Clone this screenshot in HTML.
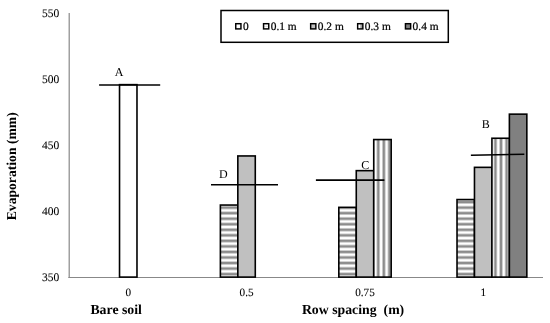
<!DOCTYPE html>
<html><head><meta charset="utf-8"><title>Evaporation chart</title>
<style>html,body{margin:0;padding:0;background:#fff;}svg{display:block;}text{text-rendering:geometricPrecision;}</style>
</head><body>
<svg width="550" height="323" viewBox="0 0 550 323">
<defs>
<pattern id="hs" patternUnits="userSpaceOnUse" x="0" y="0" width="8" height="5.54" patternTransform="translate(0,271.30)">
<rect x="0" y="0" width="8" height="5.54" fill="#fff"/><rect x="0" y="1.45" width="8" height="2.7" fill="#8c8c8c"/>
</pattern>
<pattern id="vs" patternUnits="userSpaceOnUse" x="0" y="0" width="5.58" height="8" patternTransform="translate(375.45,0)">
<rect x="0" y="0" width="5.58" height="8" fill="#fff"/><rect x="1.45" y="0" width="2.7" height="8" fill="#8c8c8c"/>
</pattern>
<linearGradient id="lg3" x1="0" y1="0" x2="1" y2="0"><stop offset="0" stop-color="#fff"/><stop offset="0.45" stop-color="#fff"/><stop offset="0.6" stop-color="#a0a0a0"/><stop offset="1" stop-color="#a0a0a0"/></linearGradient>
<linearGradient id="lg1" x1="0" y1="0" x2="0" y2="1"><stop offset="0" stop-color="#fff"/><stop offset="0.3" stop-color="#fff"/><stop offset="0.5" stop-color="#d8d8d8"/><stop offset="0.7" stop-color="#fff"/><stop offset="1" stop-color="#fff"/></linearGradient>
</defs>
<rect width="550" height="323" fill="#fff"/>

<line x1="69.2" y1="13" x2="69.2" y2="278" stroke="#888" stroke-width="1.2"/>
<line x1="68.4" y1="277.5" x2="543" y2="277.5" stroke="#888" stroke-width="1"/>
<rect x="119.53" y="84.65" width="17.45" height="192.45" fill="#fff" stroke="#000" stroke-width="1.6"/>
<rect x="220.38" y="205.05" width="17.45" height="72.05" fill="url(#hs)" stroke="#000" stroke-width="1.6"/>
<rect x="237.83" y="155.95" width="17.45" height="121.15" fill="#c0c0c0" stroke="#000" stroke-width="1.6"/>
<rect x="338.82" y="207.35" width="17.45" height="69.75" fill="url(#hs)" stroke="#000" stroke-width="1.6"/>
<rect x="356.27" y="170.65" width="17.45" height="106.45" fill="#c0c0c0" stroke="#000" stroke-width="1.6"/>
<rect x="373.73" y="139.55" width="17.45" height="137.55" fill="url(#vs)" stroke="#000" stroke-width="1.6"/>
<rect x="457.02" y="199.55" width="17.45" height="77.55" fill="url(#hs)" stroke="#000" stroke-width="1.6"/>
<rect x="474.47" y="167.35" width="17.45" height="109.75" fill="#c0c0c0" stroke="#000" stroke-width="1.6"/>
<rect x="491.93" y="138.25" width="17.45" height="138.85" fill="url(#vs)" stroke="#000" stroke-width="1.6"/>
<rect x="509.38" y="114.15" width="17.45" height="162.95" fill="#808080" stroke="#000" stroke-width="1.6"/>
<line x1="99.1" y1="85.0" x2="160.2" y2="85.0" stroke="#000" stroke-width="1.65"/>
<line x1="211" y1="184.7" x2="278" y2="184.7" stroke="#000" stroke-width="1.6"/>
<line x1="315.9" y1="180.1" x2="384.4" y2="180.1" stroke="#000" stroke-width="1.6"/>
<line x1="470.9" y1="155.2" x2="524.3" y2="154.3" stroke="#000" stroke-width="1.6"/>
<text x="119.10" y="75.70" font-size="12.00" text-anchor="middle" font-family="Liberation Serif, Times New Roman, serif" >A</text>
<text x="223.35" y="177.90" font-size="12.00" text-anchor="middle" font-family="Liberation Serif, Times New Roman, serif" >D</text>
<text x="365.25" y="168.60" font-size="12.00" text-anchor="middle" font-family="Liberation Serif, Times New Roman, serif" >C</text>
<text x="485.70" y="128.30" font-size="12.00" text-anchor="middle" font-family="Liberation Serif, Times New Roman, serif" >B</text>
<text x="59.20" y="17.10" font-size="11.50" text-anchor="end" stroke="#000" stroke-width="0.08" font-family="Liberation Serif, Times New Roman, serif" >550</text>
<text x="59.20" y="83.10" font-size="11.50" text-anchor="end" stroke="#000" stroke-width="0.08" font-family="Liberation Serif, Times New Roman, serif" >500</text>
<text x="59.20" y="149.10" font-size="11.50" text-anchor="end" stroke="#000" stroke-width="0.08" font-family="Liberation Serif, Times New Roman, serif" >450</text>
<text x="59.20" y="215.10" font-size="11.50" text-anchor="end" stroke="#000" stroke-width="0.08" font-family="Liberation Serif, Times New Roman, serif" >400</text>
<text x="59.20" y="281.10" font-size="11.50" text-anchor="end" stroke="#000" stroke-width="0.08" font-family="Liberation Serif, Times New Roman, serif" >350</text>
<text x="128.25" y="296.10" font-size="11.20" text-anchor="middle" stroke="#000" stroke-width="0.08" font-family="Liberation Serif, Times New Roman, serif" >0</text>
<text x="246.55" y="296.10" font-size="11.20" text-anchor="middle" stroke="#000" stroke-width="0.08" font-family="Liberation Serif, Times New Roman, serif" >0.5</text>
<text x="365.00" y="296.10" font-size="11.20" text-anchor="middle" stroke="#000" stroke-width="0.08" font-family="Liberation Serif, Times New Roman, serif" >0.75</text>
<text x="483.20" y="296.10" font-size="11.20" text-anchor="middle" stroke="#000" stroke-width="0.08" font-family="Liberation Serif, Times New Roman, serif" >1</text>
<text x="116.15" y="313.50" font-size="13.80" text-anchor="middle" font-weight="bold" font-family="Liberation Serif, Times New Roman, serif" >Bare soil</text>
<text x="301.90" y="313.50" font-size="13.80" text-anchor="start" font-weight="bold" font-family="Liberation Serif, Times New Roman, serif" >Row spacing&#160;&#160;(m)</text>
<text x="0" y="0" font-size="13.65" font-weight="bold" text-anchor="middle" font-family="Liberation Serif, Times New Roman, serif" transform="translate(15.9,166.3) rotate(-90)">Evaporation (mm)</text>
<rect x="221" y="10.5" width="227.3" height="31.8" fill="#fff" stroke="#000" stroke-width="1.5"/>
<rect x="235.75" y="23.7" width="5.2" height="5.2" fill="#fff" stroke="#000" stroke-width="1.45"/>
<text x="242.90" y="30.00" font-size="11.40" text-anchor="start" stroke="#000" stroke-width="0.22" font-family="Liberation Serif, Times New Roman, serif" >0</text>
<rect x="263.55" y="23.7" width="5.2" height="5.2" fill="url(#lg1)" stroke="#000" stroke-width="1.45"/>
<text x="270.70" y="30.00" font-size="11.40" text-anchor="start" stroke="#000" stroke-width="0.22" font-family="Liberation Serif, Times New Roman, serif" >0.1 m</text>
<rect x="310.65" y="23.7" width="5.2" height="5.2" fill="#c0c0c0" stroke="#000" stroke-width="1.45"/>
<text x="317.80" y="30.00" font-size="11.40" text-anchor="start" stroke="#000" stroke-width="0.22" font-family="Liberation Serif, Times New Roman, serif" >0.2 m</text>
<rect x="357.65" y="23.7" width="5.2" height="5.2" fill="url(#lg3)" stroke="#000" stroke-width="1.45"/>
<text x="364.80" y="30.00" font-size="11.40" text-anchor="start" stroke="#000" stroke-width="0.22" font-family="Liberation Serif, Times New Roman, serif" >0.3 m</text>
<rect x="405.45" y="23.7" width="5.2" height="5.2" fill="#808080" stroke="#000" stroke-width="1.45"/>
<text x="412.60" y="30.00" font-size="11.40" text-anchor="start" stroke="#000" stroke-width="0.22" font-family="Liberation Serif, Times New Roman, serif" >0.4 m</text>
</svg>
</body></html>
